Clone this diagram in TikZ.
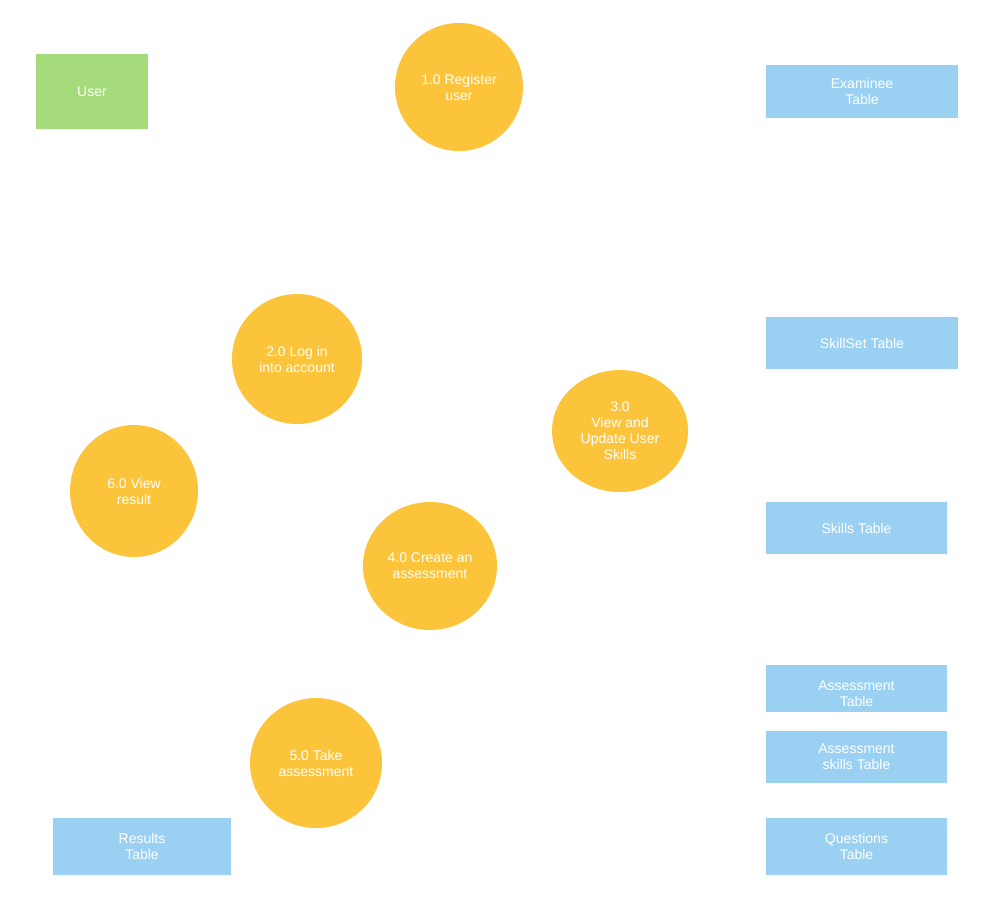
\documentclass[tikz,border=0pt]{standalone}
\usepackage{fontspec}
\setmainfont{Liberation Sans}
\usetikzlibrary{shapes.geometric}
\definecolor{yel}{HTML}{FBC43A}
\definecolor{blu}{HTML}{9AD1F2}
\definecolor{grn}{HTML}{A5DB7A}
\begin{document}
\begin{tikzpicture}[x=1pt,y=-1pt,
  txt/.style={text=white,font=\fontsize{14}{16}\selectfont,align=center},
  proc/.style={ellipse,fill=yel,draw=none,txt,inner sep=0pt},
  tab/.style={rectangle,fill=blu,draw=none,txt,inner sep=0pt}]
\fill[white] (0,0) rectangle (984,900);
\node[tab,fill=grn,minimum width=112,minimum height=75] (user) at (92,91.5) {User};
\node[proc,minimum width=128,minimum height=128] (p1) at (459,87) {1.0 Register\\user};
\node[proc,minimum width=130,minimum height=130] (p2) at (297,359) {2.0 Log in\\into account};
\node[proc,minimum width=136,minimum height=122] (p3) at (620,431) {3.0\\View and\\Update User\\Skills};
\node[proc,minimum width=128,minimum height=132] (p6) at (134,491) {6.0 View\\result};
\node[proc,minimum width=134,minimum height=128] (p4) at (430,566) {4.0 Create an\\assessment};
\node[proc,minimum width=132,minimum height=130] (p5) at (316,763) {5.0 Take\\assessment};
\node[tab,minimum width=192,minimum height=53] (t1) at (862,91.5) {Examinee\\Table};
\node[tab,minimum width=192,minimum height=52] (t2) at (862,343) {SkillSet Table};
\node[tab,minimum width=181,minimum height=52] (t3) at (856.5,528) {Skills Table};
\node[tab,minimum width=181,minimum height=47] (t4) at (856.5,688.5) {};
\node[txt] at (856.5,694) {Assessment\\Table};
\node[tab,minimum width=181,minimum height=52] (t5) at (856.5,757) {Assessment\\skills Table};
\node[tab,minimum width=181,minimum height=57] (t6) at (856.5,846.5) {Questions\\Table};
\node[tab,minimum width=178,minimum height=57] (t7) at (142,846.5) {Results\\Table};
\end{tikzpicture}
\end{document}
